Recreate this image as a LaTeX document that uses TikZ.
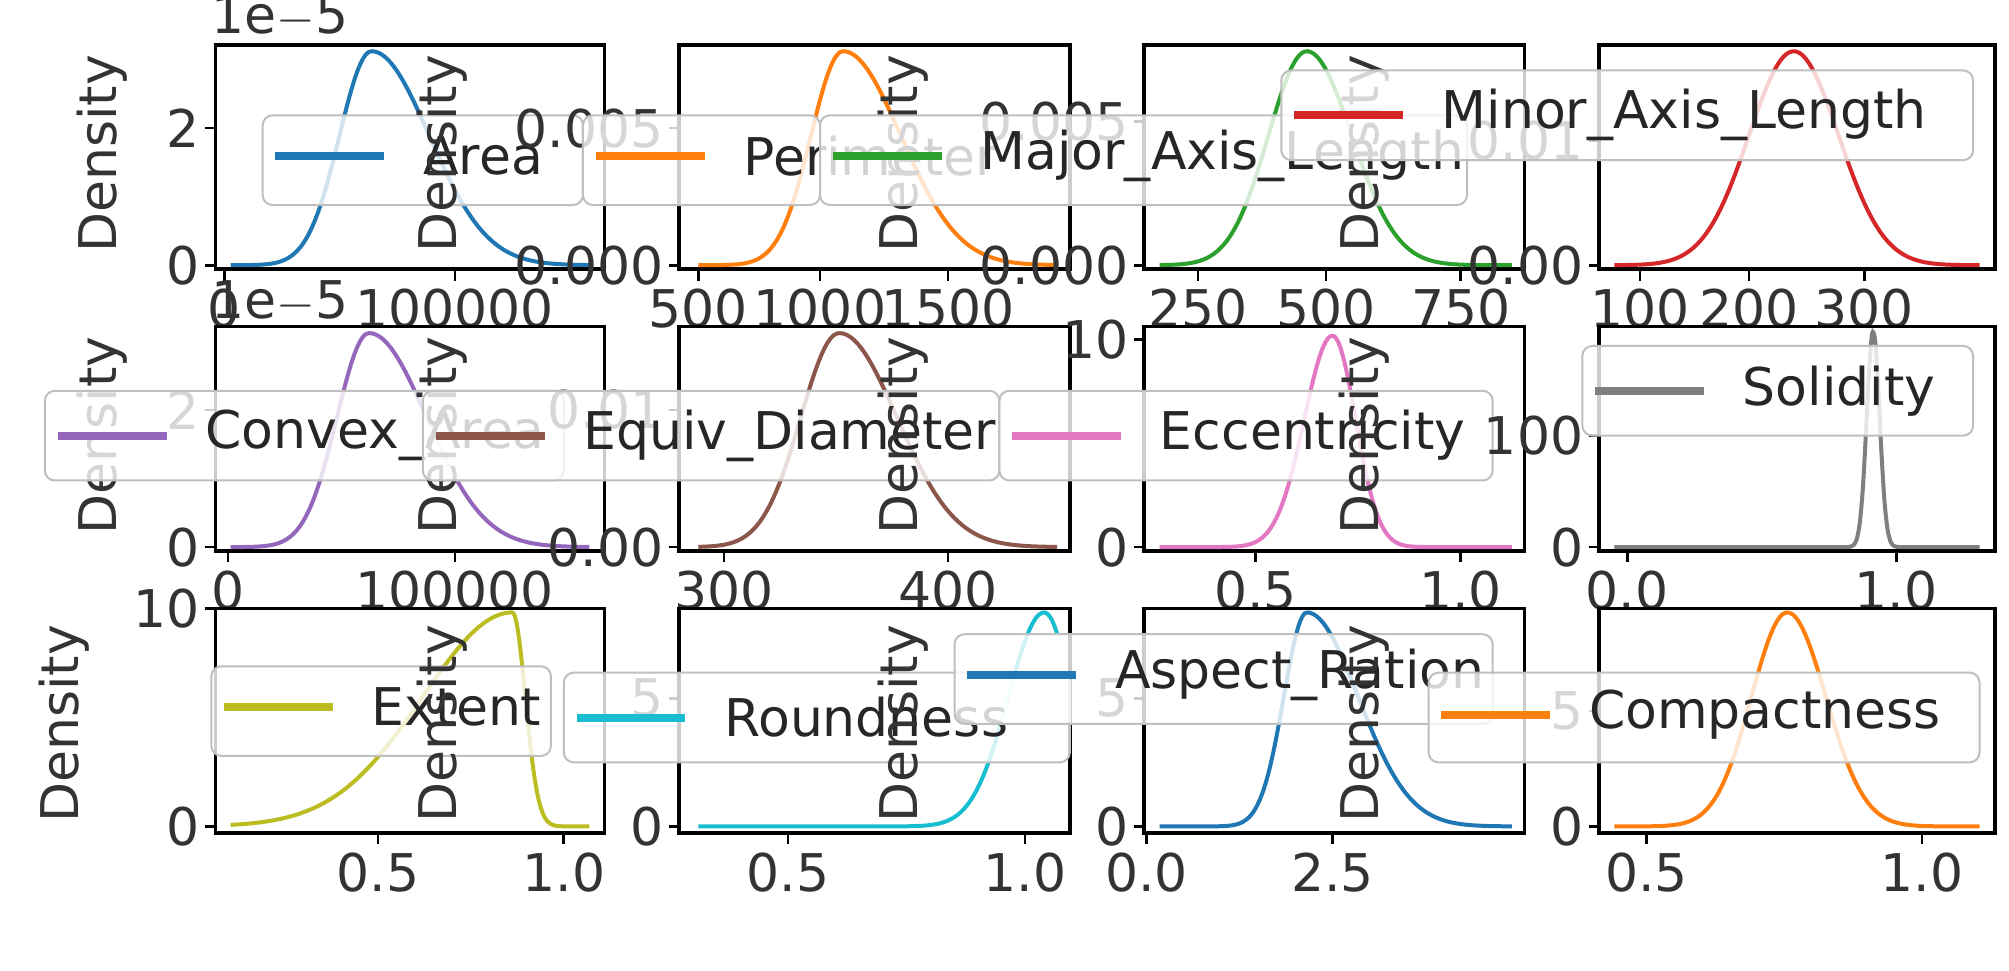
\documentclass[tikz,border=0pt]{standalone}
\usepackage{fontspec}
\setmainfont{DejaVu Sans}
\definecolor{c1}{HTML}{1F77B4}\definecolor{c2}{HTML}{FF7F0E}\definecolor{c3}{HTML}{2CA02C}
\definecolor{c4}{HTML}{D62728}\definecolor{c5}{HTML}{9467BD}\definecolor{c6}{HTML}{8C564B}
\definecolor{c7}{HTML}{E377C2}\definecolor{c8}{HTML}{7F7F7F}\definecolor{c9}{HTML}{BCBD22}
\definecolor{c10}{HTML}{17BECF}
\tikzset{ax/.style={line width=1.7pt,black},
 tl/.style={font=\fontsize{26}{28}\selectfont,text=black!80,inner sep=0pt},
 crv/.style={line width=2pt},
 legbox/.style={draw=black!25,line width=1pt,fill=white,fill opacity=0.8,rounded corners=5pt},
 legline/.style={line width=4pt},
 legtxt/.style={font=\fontsize{26}{28}\selectfont,anchor=west,inner sep=0pt,text=black!85}}
\newcommand\frameax[4]{\draw[ax] (#1,#2) rectangle (#3,#4);}
\newcommand\bump[8]{\draw[crv,#1] plot[domain=#2:#3,samples=120,smooth] (\x,{#4-(#4-#5)*exp(-min(((\x-#6)/(\x<#6?#7:#8))^2/2,15))});}
\newcommand\yt[3]{\node[tl,anchor=east] at (#1,#2) {#3}; \draw[ax,line width=1.3pt] (#1+4,#2)--(#1+12,#2);}
\newcommand\xt[3]{\node[tl,anchor=north] at (#1,#2) {#3}; \draw[ax,line width=1.3pt] (#1,#2-14)--(#1,#2-6);}
\newcommand\dens[2]{\node[tl,rotate=90] at (#1,#2) {Density};}
\newcommand\leg[8]{\draw[legbox] (#1,#2) rectangle (#3,#4); \draw[legline,#5] (#1+10,#6)--(#1+95,#6); \node[legtxt] at (#1+125,#6) {#7#8};}
\begin{document}
\begin{tikzpicture}[x=0.6405pt,y=-0.6405pt]
\useasboundingbox (0,0) rectangle (1568,757.8);
\fill[white] (0,0) rectangle (1568,757.8);
% ---- Row 1
\frameax{168}{35}{472}{210}
\bump{c1}{180}{460}{207}{40}{290}{25}{45}
\yt{156}{207}{0}\yt{156}{100}{2}\dens{80}{120}
\node[tl,anchor=south west] at (165,30) {1e$-$5};
\xt{175}{225}{0}\xt{355}{225}{100000}
\leg{205}{90}{455}{160}{c1}{122}{Area}{}
\frameax{530}{35}{835}{210}
\bump{c2}{545}{825}{207}{40}{658}{25}{45}
\yt{518}{207}{0.000}\yt{518}{100}{0.005}\dens{345}{120}
\xt{545}{225}{500}\xt{640}{225}{1000}\xt{740}{225}{1500}
\leg{455}{90}{640}{160}{c2}{122}{Perimeter}{}
\frameax{893}{35}{1190}{210}
\bump{c3}{905}{1180}{207}{40}{1020}{30}{35}
\yt{881}{207}{0.000}\yt{881}{95}{0.005}\dens{705}{120}
\xt{935}{225}{250}\xt{1035}{225}{500}\xt{1140}{225}{750}
\leg{640}{90}{1145}{160}{c3}{122}{Major\_Axis\_Length}{}
\frameax{1248}{35}{1557}{210}
\bump{c4}{1260}{1545}{207}{40}{1400}{35}{35}
\yt{1236}{207}{0.00}\yt{1236}{110}{0.01}\dens{1065}{120}
\xt{1280}{225}{100}\xt{1365}{225}{200}\xt{1455}{225}{300}
\leg{1000}{55}{1540}{125}{c4}{90}{Minor\_Axis\_Length}{}
% ---- Row 2
\frameax{168}{255}{472}{430}
\bump{c5}{180}{460}{427}{260}{288}{25}{45}
\yt{156}{427}{0}\yt{156}{320}{2}\dens{80}{340}
\node[tl,anchor=south west] at (165,252) {1e$-$5};
\xt{178}{445}{0}\xt{355}{445}{100000}
\leg{35}{305}{440}{375}{c5}{340}{Convex\_Area}{}
\frameax{530}{255}{835}{430}
\bump{c6}{545}{825}{427}{260}{655}{30}{45}
\yt{518}{427}{0.00}\yt{518}{320}{0.01}\dens{345}{340}
\xt{565}{445}{300}\xt{740}{445}{400}
\leg{330}{305}{780}{375}{c6}{340}{Equiv\_Diameter}{}
\frameax{893}{255}{1190}{430}
\bump{c7}{905}{1180}{427}{262}{1040}{22}{18}
\yt{881}{427}{0}\yt{881}{265}{10}\dens{705}{340}
\xt{980}{445}{0.5}\xt{1140}{445}{1.0}
\leg{780}{305}{1165}{375}{c7}{340}{Eccentricity}{}
\frameax{1248}{255}{1557}{430}
\bump{c8}{1260}{1545}{427}{258}{1462}{5}{5}
\yt{1236}{427}{0}\yt{1236}{340}{100}\dens{1065}{340}
\xt{1270}{445}{0.0}\xt{1480}{445}{1.0}
\leg{1235}{270}{1540}{340}{c8}{305}{Solidity}{}
% ---- Row 3
\frameax{168}{475}{472}{650}
\draw[crv,c9] plot[domain=180:460,samples=140,smooth] (\x,{\x<400 ? 645-167*exp(-min(((\x-400)/70)^2/2,15)) : 645-167*exp(-min(((\x-400)/10)^2/2,15))});
\yt{156}{645}{0}\yt{156}{475}{10}\dens{50}{565}
\xt{295}{665}{0.5}\xt{440}{665}{1.0}
\leg{165}{520}{430}{590}{c9}{552}{Extent}{}
\frameax{530}{475}{835}{650}
\bump{c10}{545}{825}{645}{478}{815}{28}{22}
\yt{518}{645}{0}\yt{518}{545}{5}\dens{345}{565}
\xt{615}{665}{0.5}\xt{800}{665}{1.0}
\leg{440}{525}{835}{595}{c10}{560}{Roundness}{}
\frameax{893}{475}{1190}{650}
\bump{c1}{905}{1180}{645}{478}{1020}{18}{40}
\yt{881}{645}{0}\yt{881}{545}{5}\dens{705}{565}
\xt{895}{665}{0.0}\xt{1040}{665}{2.5}
\leg{745}{495}{1165}{565}{c1}{527}{Aspect\_Ration}{}
\frameax{1248}{475}{1557}{650}
\bump{c2}{1260}{1545}{645}{478}{1395}{28}{30}
\yt{1236}{645}{0}\yt{1236}{555}{5}\dens{1065}{565}
\xt{1285}{665}{0.5}\xt{1500}{665}{1.0}
\leg{1115}{525}{1545}{595}{c2}{558}{Compactness}{}
\end{tikzpicture}
\end{document}
